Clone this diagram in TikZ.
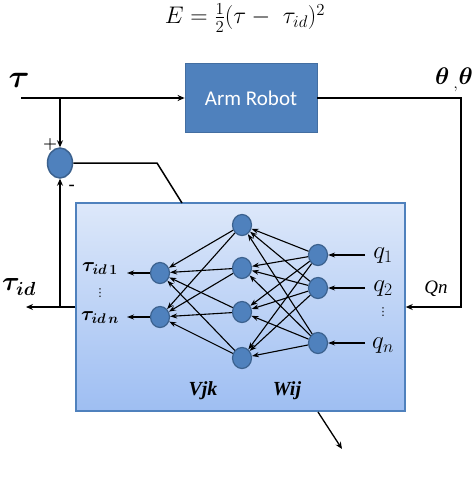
\RequirePackage{fix-cm}
\documentclass[tikz,border=0pt]{standalone}
\usepackage{amsmath,bm}
\usepackage{fontspec}
\newfontfamily\calib{Carlito}
\newfontfamily\tnr{Liberation Serif}
\newfontfamily\dejavu{DejaVu Sans}
\usetikzlibrary{arrows.meta,shapes.geometric}
\definecolor{nblue}{HTML}{4F81BD}
\definecolor{boxtop}{HTML}{DDE8FA}
\definecolor{boxbot}{HTML}{9EBEF2}
\begin{document}
\begin{tikzpicture}[x=1pt,y=-1pt,
  wire/.style={line width=1.5pt,black},
  arr/.style={-{Stealth[length=7pt,width=6pt]}},
  conn/.style={line width=1.1pt,-{Stealth[length=7pt,width=5pt]}},
  neuron/.style={ellipse,fill=nblue,draw=nblue!75!black,line width=1.2pt,minimum width=19pt,minimum height=21pt,inner sep=0pt},
  robot/.style={rectangle,fill=nblue,draw=nblue!85!black,line width=0.8pt,minimum width=132pt,minimum height=69pt,text=white,font=\calib\fontsize{21}{24}\selectfont},
  nnbox/.style={rectangle,draw=nblue,line width=1.5pt,top color=boxtop,bottom color=boxbot,minimum width=329pt,minimum height=208pt},
  summer/.style={ellipse,fill=nblue,draw=nblue!75!black,line width=1.5pt,minimum width=25pt,minimum height=30pt,inner sep=0pt},
  lbl/.style={inner sep=0pt},
  vdot/.style={inner sep=0pt,font=\dejavu\fontsize{11}{12}\selectfont}]
\useasboundingbox (0,0) rectangle (474,481);
% equation
\node[lbl] (eq) at (245,18) {\fontsize{24}{28}\selectfont $E=\frac{1}{2}(\tau-\ \tau_{id})^2$};
% blocks
\node[nnbox] (box) at (240.5,307) {};
\node[robot] (arm) at (251,98) {Arm Robot};
\node[summer] (sum) at (60,163) {};
% coordinates
\coordinate (tin) at (21,98);
\coordinate (br) at (60,98);
\coordinate (c1) at (461,98);
\coordinate (c2) at (461,307);
\coordinate (bend) at (157,163);
\coordinate (ein) at (182,203);
\coordinate (fb) at (60,307);
\coordinate (tidout) at (26,307);
\coordinate (o1) at (318,412);
\coordinate (o2) at (342,449);
% main wiring
\draw[wire,arr] (tin) -- (arm.west);
\draw[wire,arr] (br) -- (sum.north);
\draw[wire] (sum.east) -- (bend) -- (ein);
\draw[wire,arr] (arm.east) -- (c1) -- (c2) -- (box.east);
\draw[wire,arr] (box.west) -- (tidout);
\draw[wire,arr] (fb) -- (sum.south);
\draw[line width=1.3pt,arr] (o1) -- (o2);
% outer labels
\node[lbl] (tau) at (19,80) {\fontsize{32}{36}\selectfont $\bm{\tau}$};
\node[lbl,anchor=east] (theta) at (473,80) {\fontsize{24}{28}\selectfont $\bm{\theta}\,_{,}\bm{\theta}$};
\node[lbl] (plus) at (50,145) {\fontsize{16}{18}\selectfont\bfseries +};
\node[lbl] (minus) at (72,187) {\fontsize{16}{18}\selectfont\bfseries -};
\node[lbl] (tid) at (19,287) {\fontsize{27}{30}\selectfont $\bm{\tau_{id}}$};
\node[lbl] (qn) at (436,289) {\fontsize{19}{22}\selectfont\tnr\itshape Qn};
% neurons
\node[neuron] (y1) at (160,273) {};
\node[neuron] (y2) at (160,317) {};
\node[neuron] (h1) at (242,225) {};
\node[neuron] (h2) at (242,268) {};
\node[neuron] (h3) at (242,312) {};
\node[neuron] (h4) at (242,358) {};
\node[neuron] (x1) at (318,255) {};
\node[neuron] (x2) at (318,288) {};
\node[neuron] (x3) at (318,343) {};
% connections
\foreach \h in {h1,h2,h3,h4}{
  \foreach \y in {y1,y2}{\draw[conn] (\h) -- (\y);}
  \foreach \x in {x1,x2,x3}{\draw[conn] (\x) -- (\h);}
}
% inner labels
\node[lbl] (t1) at (100,269) {\fontsize{20}{22}\selectfont $\bm{\tau_{id\,1}}$};
\node[lbl] (tn) at (100,318) {\fontsize{20}{22}\selectfont $\bm{\tau_{id\,n}}$};
\node[vdot] (tdots) at (100,293) {⋮};
\coordinate (a1) at (127,273);
\coordinate (a2) at (127,317);
\draw[conn,line width=1.5pt] (y1) -- (a1);
\draw[conn,line width=1.5pt] (y2) -- (a2);
\node[lbl] (q1) at (383,256) {\fontsize{25}{28}\selectfont $q_1$};
\node[lbl] (q2) at (383,289) {\fontsize{25}{28}\selectfont $q_2$};
\node[vdot] (qdots) at (383,312) {⋮};
\node[lbl] (qq) at (383,346) {\fontsize{25}{28}\selectfont $q_n$};
\coordinate (b1) at (365,255);
\coordinate (b2) at (365,288);
\coordinate (b3) at (365,343);
\draw[conn,line width=1.5pt] (b1) -- (x1);
\draw[conn,line width=1.5pt] (b2) -- (x2);
\draw[conn,line width=1.5pt] (b3) -- (x3);
\node[lbl] (vjk) at (203,391) {\fontsize{20}{24}\selectfont\tnr\bfseries\itshape Vjk};
\node[lbl] (wij) at (287,391) {\fontsize{20}{24}\selectfont\tnr\bfseries\itshape Wij};
\end{tikzpicture}
\end{document}
